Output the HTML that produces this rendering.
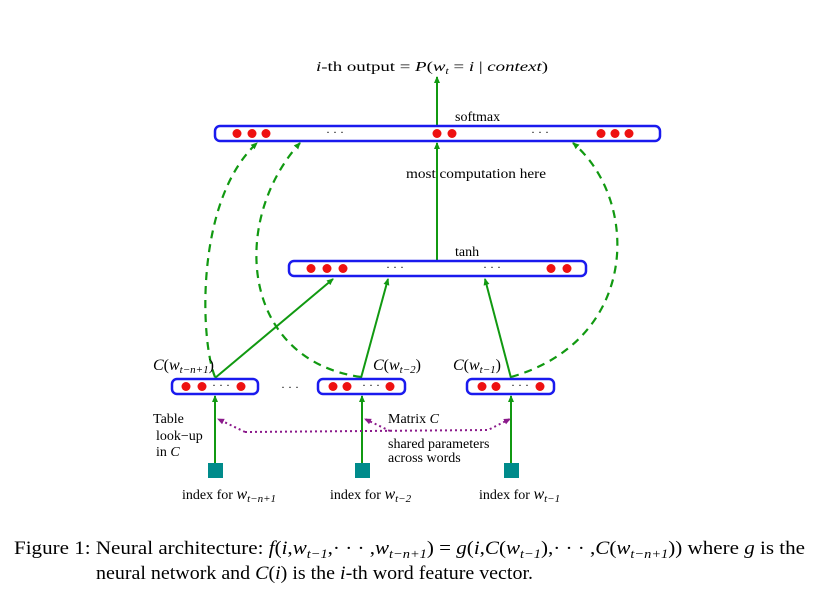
<!DOCTYPE html>
<html><head><style>body{margin:0;background:#fff}svg{display:block}text{font-family:"Liberation Serif",serif;fill:#000}</style></head><body>
<svg width="822" height="590" viewBox="0 0 822 590" xmlns="http://www.w3.org/2000/svg">
<defs>
<marker id="g" markerWidth="8" markerHeight="8" refX="6" refY="4" orient="auto" markerUnits="userSpaceOnUse"><path d="M0,1 L7,4 L0,7 z" fill="#119911"/></marker>
<marker id="p" markerWidth="8" markerHeight="8" refX="6" refY="4" orient="auto" markerUnits="userSpaceOnUse"><path d="M0,1 L7,4 L0,7 z" fill="#8b1a8b"/></marker>
</defs>
<g stroke="#119911" stroke-width="2" fill="none">
<line x1="437" y1="126" x2="437" y2="77" marker-end="url(#g)"/>
<line x1="437" y1="261" x2="437" y2="143" marker-end="url(#g)"/>
<line x1="215" y1="378" x2="333" y2="279" marker-end="url(#g)"/>
<line x1="361" y1="378" x2="388" y2="279" marker-end="url(#g)"/>
<line x1="511" y1="378" x2="485" y2="279" marker-end="url(#g)"/>
<line x1="215" y1="463" x2="215" y2="396" marker-end="url(#g)"/>
<line x1="362" y1="463" x2="362" y2="396" marker-end="url(#g)"/>
<line x1="511" y1="463" x2="511" y2="396" marker-end="url(#g)"/>
<g stroke-dasharray="8,6" stroke-width="2.2">
<path d="M215,377 C200,340 195,200 257,143" marker-end="url(#g)"/>
<path d="M361,377 C240,360 230,220 300,143" marker-end="url(#g)"/>
<path d="M511,377 C640,340 640,200 573,143" marker-end="url(#g)"/>
</g>
</g>
<g stroke="#8b1a8b" stroke-width="2" fill="none" stroke-dasharray="2,3">
<path d="M245,432 L218,419" marker-end="url(#p)"/>
<path d="M245,432 L488,430 L510,419" marker-end="url(#p)"/>
<path d="M390,431 L365,419" marker-end="url(#p)"/>
</g>
<g fill="#fff" stroke="#1a1aee" stroke-width="2.5">
<rect x="215" y="126" width="445" height="15" rx="5"/>
<rect x="289" y="261" width="297" height="15" rx="5"/>
<rect x="172" y="379" width="86" height="15" rx="5"/>
<rect x="318" y="379" width="87" height="15" rx="5"/>
<rect x="467" y="379" width="87" height="15" rx="5"/>
</g>
<g fill="#ee1111">
<circle cx="237" cy="133.5" r="4.5"/><circle cx="252" cy="133.5" r="4.5"/><circle cx="266" cy="133.5" r="4.5"/>
<circle cx="437" cy="133.5" r="4.5"/><circle cx="452" cy="133.5" r="4.5"/>
<circle cx="601" cy="133.5" r="4.5"/><circle cx="615" cy="133.5" r="4.5"/><circle cx="629" cy="133.5" r="4.5"/>
<circle cx="311" cy="268.5" r="4.5"/><circle cx="327" cy="268.5" r="4.5"/><circle cx="343" cy="268.5" r="4.5"/>
<circle cx="551" cy="268.5" r="4.5"/><circle cx="567" cy="268.5" r="4.5"/>
<circle cx="186" cy="386.5" r="4.5"/><circle cx="202" cy="386.5" r="4.5"/><circle cx="241" cy="386.5" r="4.5"/>
<circle cx="333" cy="386.5" r="4.5"/><circle cx="347" cy="386.5" r="4.5"/><circle cx="390" cy="386.5" r="4.5"/>
<circle cx="482" cy="386.5" r="4.5"/><circle cx="496" cy="386.5" r="4.5"/><circle cx="540" cy="386.5" r="4.5"/>
</g>
<g font-size="12">
<text x="326" y="136">· · ·</text><text x="531" y="136">· · ·</text>
<text x="386" y="271">· · ·</text><text x="483" y="271">· · ·</text>
<text x="212" y="389">· · ·</text><text x="362" y="389">· · ·</text><text x="511" y="389">· · ·</text>
<text x="281" y="391">· · ·</text>
</g>
<g font-size="14">
<text x="316" y="71" textLength="232" lengthAdjust="spacingAndGlyphs"><tspan font-style="italic">i</tspan>-th output = <tspan font-style="italic">P</tspan>(<tspan font-style="italic">w<tspan font-size="9" dy="3">t</tspan></tspan><tspan dy="-3">  =  </tspan><tspan font-style="italic">i</tspan> | <tspan font-style="italic">context</tspan>)</text>
<text x="455" y="121">softmax</text>
<text x="406" y="178" textLength="140" lengthAdjust="spacingAndGlyphs">most computation here</text>
<text x="455" y="256">tanh</text>
<text x="153" y="370" font-size="16"><tspan font-style="italic">C</tspan>(<tspan font-style="italic">w<tspan font-size="11" dy="3">t−n+1</tspan></tspan><tspan dy="-3">)</tspan></text>
<text x="373" y="370" font-size="16"><tspan font-style="italic">C</tspan>(<tspan font-style="italic">w<tspan font-size="11" dy="3">t−2</tspan></tspan><tspan dy="-3">)</tspan></text>
<text x="453" y="370" font-size="16"><tspan font-style="italic">C</tspan>(<tspan font-style="italic">w<tspan font-size="11" dy="3">t−1</tspan></tspan><tspan dy="-3">)</tspan></text>
<text x="153" y="423">Table</text><text x="156" y="440">look−up</text><text x="156" y="456">in <tspan font-style="italic">C</tspan></text>
<text x="388" y="423">Matrix <tspan font-style="italic">C</tspan></text>
<text x="388" y="448">shared parameters</text><text x="388" y="462">across words</text>
<text x="182" y="499">index for <tspan font-style="italic" font-size="16">w<tspan font-size="11" dy="3">t−n+1</tspan></tspan></text>
<text x="330" y="499">index for <tspan font-style="italic" font-size="16">w<tspan font-size="11" dy="3">t−2</tspan></tspan></text>
<text x="479" y="499">index for <tspan font-style="italic" font-size="16">w<tspan font-size="11" dy="3">t−1</tspan></tspan></text>
</g>
<line x1="437" y1="168" x2="437" y2="182" stroke="#119911" stroke-width="2"/>
<g font-size="19">
<text x="14" y="554" textLength="791" lengthAdjust="spacingAndGlyphs">Figure 1:  Neural architecture: <tspan font-style="italic">f</tspan>(<tspan font-style="italic">i</tspan>,<tspan font-style="italic">w<tspan font-size="13" dy="4">t−1</tspan></tspan><tspan dy="-4">,· · · ,</tspan><tspan font-style="italic">w<tspan font-size="13" dy="4">t−n+1</tspan></tspan><tspan dy="-4">) = </tspan><tspan font-style="italic">g</tspan>(<tspan font-style="italic">i</tspan>,<tspan font-style="italic">C</tspan>(<tspan font-style="italic">w<tspan font-size="13" dy="4">t−1</tspan></tspan><tspan dy="-4">),· · · ,</tspan><tspan font-style="italic">C</tspan>(<tspan font-style="italic">w<tspan font-size="13" dy="4">t−n+1</tspan></tspan><tspan dy="-4">)) where </tspan><tspan font-style="italic">g</tspan> is the</text>
<text x="96" y="579" textLength="437" lengthAdjust="spacingAndGlyphs">neural network and <tspan font-style="italic">C</tspan>(<tspan font-style="italic">i</tspan>) is the <tspan font-style="italic">i</tspan>-th word feature vector.</text>
</g>
<path d="M208,463h15v15h-15z M355,463h15v15h-15z M504,463h15v15h-15z" fill="#008b8b" stroke="none"/>
</svg>
</body></html>
